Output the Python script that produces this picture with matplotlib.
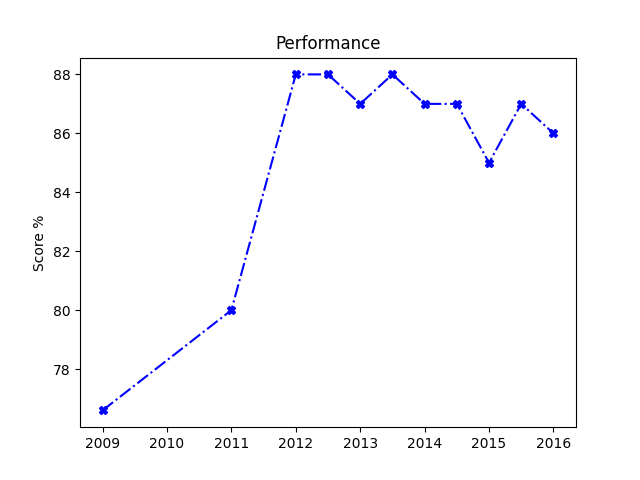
import matplotlib
matplotlib.use("Agg")
import matplotlib.pyplot as plt

years = [2009, 2011, 2012, 2012.5, 2013, 2013.5, 2014, 2014.5, 2015, 2015.5, 2016]
scores = [76.6, 80, 88, 88, 87, 88, 87, 87, 85, 87, 86]

fig, ax = plt.subplots(figsize=(6.4, 4.8), dpi=100)
ax.plot(years, scores, color='blue', linestyle='-.', marker='X')
ax.set_title('Performance')
ax.set_ylabel('Score %')

fig.savefig('out.png')
